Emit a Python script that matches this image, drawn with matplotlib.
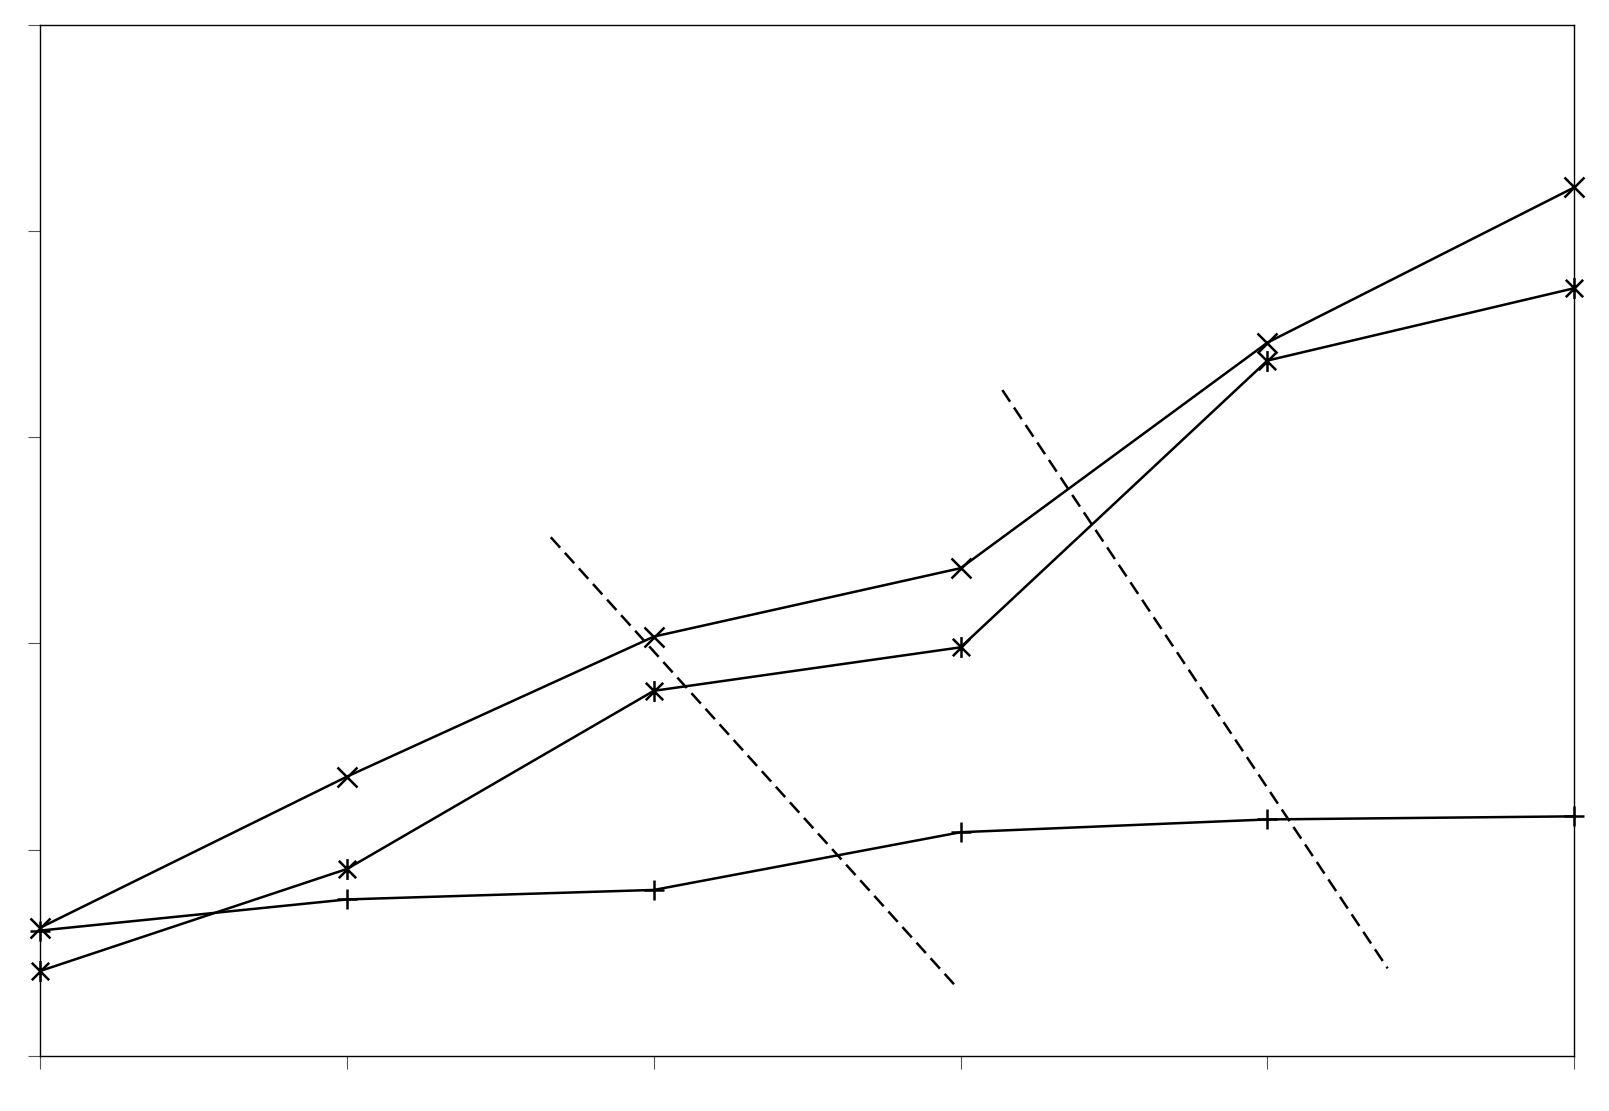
import matplotlib
matplotlib.use("Agg")
import matplotlib.pyplot as plt
from matplotlib.path import Path

# Data
x_pos = [0, 1, 2, 3, 4, 5]
series_x = [0.621, 1.354, 2.033, 2.365, 3.459, 4.212]      # 'x' markers
series_star = [0.411, 0.906, 1.770, 1.981, 3.372, 3.723]   # star markers
series_plus = [0.607, 0.758, 0.804, 1.084, 1.146, 1.161]   # plus markers

dash1_x = [1.664, 2.983]
dash1_y = [2.515, 0.339]
dash2_x = [3.136, 4.392]
dash2_y = [3.229, 0.4235]

x_ticks = [0, 1, 2, 3, 4, 5]
y_ticks = [0, 1, 2, 3, 4, 5]

fig = plt.figure(figsize=(16.09, 11.11), dpi=100)
ax = fig.add_axes([0.02505, 0.0498, 0.9533, 0.9277])

lw = 1.8
star = Path([(-1, -1), (1, 1), (-1, 1), (1, -1), (0, -1.2), (0, 1.2)],
            [Path.MOVETO, Path.LINETO, Path.MOVETO, Path.LINETO, Path.MOVETO, Path.LINETO])

ax.plot(x_pos, series_x, color="black", lw=lw, marker="x", ms=14,
        mew=1.8, clip_on=False, zorder=3)
ax.plot(x_pos, series_star, color="black", lw=lw, marker=star, ms=15,
        mew=1.8, mfc="none", clip_on=False, zorder=3)
ax.plot(x_pos, series_plus, color="black", lw=lw, marker="+", ms=15,
        mew=1.8, clip_on=False, zorder=3)

ax.plot(dash1_x, dash1_y, color="black", lw=lw, dashes=(5.6, 2.8), zorder=2)
ax.plot(dash2_x, dash2_y, color="black", lw=lw, dashes=(5.6, 2.8), zorder=2)

ax.set_xlim(0, 5)
ax.set_ylim(0, 5)
ax.set_xticks(x_ticks)
ax.set_yticks(y_ticks)
ax.set_xticklabels([])
ax.set_yticklabels([])
ax.tick_params(direction="out", length=9, width=0.8, color="#555555")
for s in ax.spines.values():
    s.set_linewidth(1.0)
    s.set_color("black")

fig.savefig("out.png", dpi=100, facecolor="white")
